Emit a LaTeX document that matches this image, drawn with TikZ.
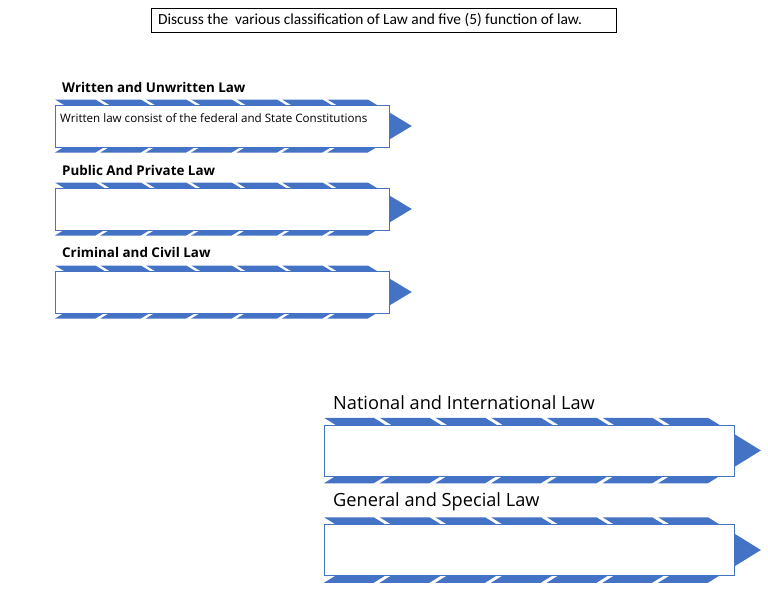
\documentclass[tikz,border=0pt]{standalone}
\usepackage{fontspec}
\setmainfont{Open Sans}
\newfontfamily\titlefont{Carlito}
\definecolor{chevblue}{HTML}{4472C4}

\tikzset{
  chev/.style={fill=chevblue, draw=none},
  lawbox/.style={draw=chevblue, fill=white, line width=0.8pt},
  smalllabel/.style={anchor=west, inner sep=0pt, font=\bfseries\fontsize{13.4}{15}\selectfont},
  biglabel/.style={anchor=west, inner sep=0pt, font=\fontsize{18.2}{20}\selectfont},
}

% #1 left x, #2 centre y, #3 half height, #4 chevron width, #5 pitch, #6 tip length
\newcommand{\chevrons}[6]{%
  \foreach \i in {0,...,6}
    \fill[chev] ({#1+\i*#5},{#2-#3}) -- ++(#4,0) -- ++(#6,#3) -- ++(-#6,#3)
      -- ++(-#4,0) -- ++(#6,-#3) -- cycle;
}

\begin{document}
\begin{tikzpicture}[x=1pt,y=-1pt]
                \useasboundingbox (0,0) rectangle (768,594);

                % question
                \draw[line width=0.8pt] (151,8) rectangle (616,32);
                \node[anchor=west, inner sep=0pt, font=\titlefont\fontsize{15.4}{17}\selectfont] (title) at (158,20)
                  {Discuss the \ various classification of Law and five (5) function of law.};

                % left column
                \chevrons{55}{126}{26.5}{40.4}{45.4}{44}
                \chevrons{55}{209}{26.5}{40.4}{45.4}{44}
                \chevrons{55}{292}{26.5}{40.4}{45.4}{44}
                \draw[lawbox] (55,105) rectangle (389,147);
                \draw[lawbox] (55,188) rectangle (389,230);
                \draw[lawbox] (55,271) rectangle (389,313);

                \node[smalllabel] (written) at (62,87) {Written and Unwritten Law};
                \node[smalllabel] (public) at (62,170) {Public And Private Law};
                \node[smalllabel] (criminal) at (62,252) {Criminal and Civil Law};
                \node[anchor=west, inner sep=0pt, font=\fontsize{11.6}{13}\selectfont] (writtentext) at (60,118)
                  {Written law consist of the federal and State Constitutions};

                % right column
                \chevrons{324}{450.5}{32.75}{49.7}{55.7}{53}
                \chevrons{324}{550}{32.75}{49.7}{55.7}{53}
                \draw[lawbox] (324,425) rectangle (734,476);
                \draw[lawbox] (324,524.5) rectangle (734,575.5);

                \node[biglabel] (national) at (333,403) {National and International Law};
                \node[biglabel] (general) at (333,502) {General and Special Law};
\end{tikzpicture}
\end{document}
